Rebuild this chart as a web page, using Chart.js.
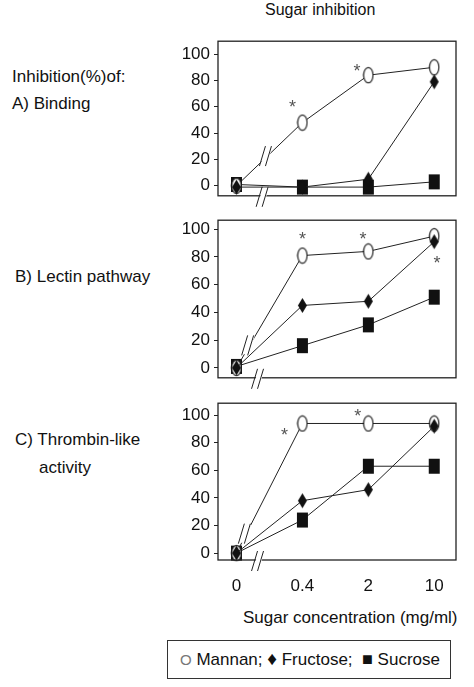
<!DOCTYPE html>
<html><head><meta charset="utf-8">
<script src="https://cdn.jsdelivr.net/npm/chart.js@4.4.1/dist/chart.umd.min.js"></script>
<style>
html,body{margin:0;padding:0;background:#fff;}
body{width:474px;height:687px;position:relative;overflow:hidden;font-family:"Liberation Sans",Arial,sans-serif;color:#111;}
.t{position:absolute;white-space:nowrap;font-size:17px;line-height:20px;}
canvas{position:absolute;}
#legend{position:absolute;left:167px;top:640px;width:284px;height:39px;border:1.5px solid #333;box-sizing:border-box;font-size:17px;line-height:36px;padding-left:12px;white-space:nowrap;}
</style></head>
<body>
<div class="t" style="left:265px;top:0px;font-size:16px;">Sugar inhibition</div>
<div class="t" style="left:12px;top:67px;">Inhibition(%)of:</div>
<div class="t" style="left:12px;top:94px;">A) Binding</div>
<div class="t" style="left:15px;top:267px;">B) Lectin pathway</div>
<div class="t" style="left:15px;top:430px;">C) Thrombin-like</div>
<div class="t" style="left:39px;top:458px;">activity</div>
<div class="t" style="left:243px;top:608px;">Sugar concentration (mg/ml)</div>
<div id="legend"><span style="color:#777;font-size:15px;">O</span> Mannan; <span style="font-size:19px;">&#9830;</span> Fructose;&nbsp; <span style="font-size:18px;">&#9632;</span> Sucrose</div>
<canvas id="cA" width="314" height="183" style="left:160px;top:27px;width:314px;height:183px;"></canvas>
<canvas id="cB" width="314" height="186" style="left:160px;top:206px;width:314px;height:186px;"></canvas>
<canvas id="cC" width="314" height="211" style="left:160px;top:389px;width:314px;height:211px;"></canvas>
<script>
// ---- data ----
const xLabels = ["0", "0.4", "2", "10"];
const yTicks = [0, 20, 40, 60, 80, 100];

const mannanA   = [0, 48, 84, 90];
const fructoseA = [-1, -1, 5, 79];
const sucroseA  = [1, -1, -1, 3];
const starsA = [[0.85, 61], [1.83, 89]];

const mannanB   = [0, 81, 84, 95];
const fructoseB = [0, 45, 48, 91];
const sucroseB  = [1, 16, 31, 51];
const starsB = [[1.0, 94], [1.92, 94.5], [3.04, 77]];

const mannanC   = [0, 94, 94, 94];
const fructoseC = [0, 38, 46, 92];
const sucroseC  = [0, 24, 63, 63];
const starsC = [[0.73, 87], [1.84, 101]];

// ---- marker images ----
function mk(w, h, draw) {
  const c = document.createElement('canvas');
  c.width = w + 2; c.height = h + 2;
  const g = c.getContext('2d');
  draw(g, w, h);
  return c;
}
const ellipseImg = mk(10, 16, (g, w, h) => {
  g.beginPath(); g.ellipse(w/2+1, h/2+1, w/2-0.3, h/2-0.3, 0, 0, Math.PI*2);
  g.fillStyle = '#fff'; g.fill(); g.lineWidth = 1.2; g.strokeStyle = '#222'; g.stroke();
});
const diamondImg = mk(9, 15, (g, w, h) => {
  g.beginPath(); g.moveTo(w/2+1, 1); g.lineTo(w+1, h/2+1); g.lineTo(w/2+1, h+1); g.lineTo(1, h/2+1); g.closePath();
  g.fillStyle = '#111'; g.fill();
});
const rectImg = mk(11, 15, (g, w, h) => { g.fillStyle = '#111'; g.fillRect(1, 1, w, h); });

function pts(arr) { return arr.map((v, i) => ({x: i, y: v})); }

function drawBreak(ctx, cx, cy) {
  ctx.save();
  ctx.beginPath();
  ctx.moveTo(cx - 7, cy + 9); ctx.lineTo(cx - 1, cy - 9); ctx.lineTo(cx + 5, cy - 9); ctx.lineTo(cx - 1, cy + 9); ctx.closePath();
  ctx.fillStyle = '#fff'; ctx.fill();
  ctx.strokeStyle = '#222'; ctx.lineWidth = 1;
  ctx.beginPath();
  ctx.moveTo(cx - 8, cy + 10); ctx.lineTo(cx - 2, cy - 10);
  ctx.moveTo(cx - 2, cy + 10); ctx.lineTo(cx + 4, cy - 10);
  ctx.stroke();
  ctx.restore();
}

function makePanel(id, mannan, fructose, sucrose, stars, yMin, yMax, axisBreakX, lineBreakX, showX) {
  const framePlugin = {
    id: 'frame' + id,
    afterDatasetsDraw(chart) {
      const {ctx, chartArea: a, scales: {x, y}} = chart;
      ctx.save();
      ctx.strokeStyle = '#222'; ctx.lineWidth = 1.3;
      ctx.strokeRect(a.left, a.top, a.right - a.left, a.bottom - a.top);
      ctx.fillStyle = '#555';
      ctx.font = '18px "Liberation Sans", Arial, sans-serif';
      ctx.textAlign = 'center'; ctx.textBaseline = 'middle';
      stars.forEach(s => ctx.fillText('*', x.getPixelForValue(s[0]), y.getPixelForValue(s[1]) + 3));
      ctx.restore();
      drawBreak(ctx, x.getPixelForValue(axisBreakX), a.bottom + 1);
      const x0 = x.getPixelForValue(0), y0 = y.getPixelForValue(mannan[0]);
      const x1 = x.getPixelForValue(1), y1 = y.getPixelForValue(mannan[1]);
      const bx = x.getPixelForValue(lineBreakX);
      const by = y0 + (y1 - y0) * (bx - x0) / (x1 - x0);
      drawBreak(ctx, bx, by);
    }
  };
  const ds = (label, data, img, order) => ({
    label, data: pts(data), pointStyle: img, borderColor: '#222', borderWidth: 1,
    pointRadius: 8, pointHoverRadius: 8, showLine: true, fill: false, tension: 0, clip: false, order
  });
  return new Chart(document.getElementById(id), {
    type: 'scatter',
    data: {datasets: [
      ds('Fructose', fructose, diamondImg, 0),
      ds('Mannan', mannan, ellipseImg, 1),
      ds('Sucrose', sucrose, rectImg, 2)
    ]},
    options: {
      responsive: false, animation: false, events: [],
      layout: {padding: {top: 0, bottom: 0, right: 18, left: 0}},
      plugins: {legend: {display: false}, tooltip: {enabled: false}},
      scales: {
        x: {
          type: 'linear', min: -0.28, max: 3.33, display: showX,
          grid: {display: false}, border: {display: false},
          afterBuildTicks: s => { s.ticks = xLabels.map((_, i) => ({value: i})); },
          afterFit: s => { s.height = showX ? 40 : 0; },
          ticks: {padding: 8, color: '#111', font: {size: 17, family: '"Liberation Sans", Arial, sans-serif'},
                  callback: (v, i) => xLabels[i], maxRotation: 0, autoSkip: false}
        },
        y: {
          min: yMin, max: yMax,
          afterBuildTicks: s => { s.ticks = yTicks.map(v => ({value: v})); },
          afterFit: s => { s.width = 58; },
          grid: {display: true, drawOnChartArea: false, drawTicks: true, tickLength: 4, color: '#222'},
          border: {display: false},
          ticks: {padding: 4, autoSkip: false, color: '#111', font: {size: 17, family: '"Liberation Sans", Arial, sans-serif'}}
        }
      }
    },
    plugins: [framePlugin]
  });
}

makePanel('cA', mannanA, fructoseA, sucroseA, starsA, -7.6, 109.8, 0.42, 0.47, false);
makePanel('cB', mannanB, fructoseB, sucroseB, starsB, -7.2, 106.5, 0.35, 0.2, false);
makePanel('cC', mannanC, fructoseC, sucroseC, starsC, -5, 108.7, 0.35, 0.15, true);
</script>
</body></html>
